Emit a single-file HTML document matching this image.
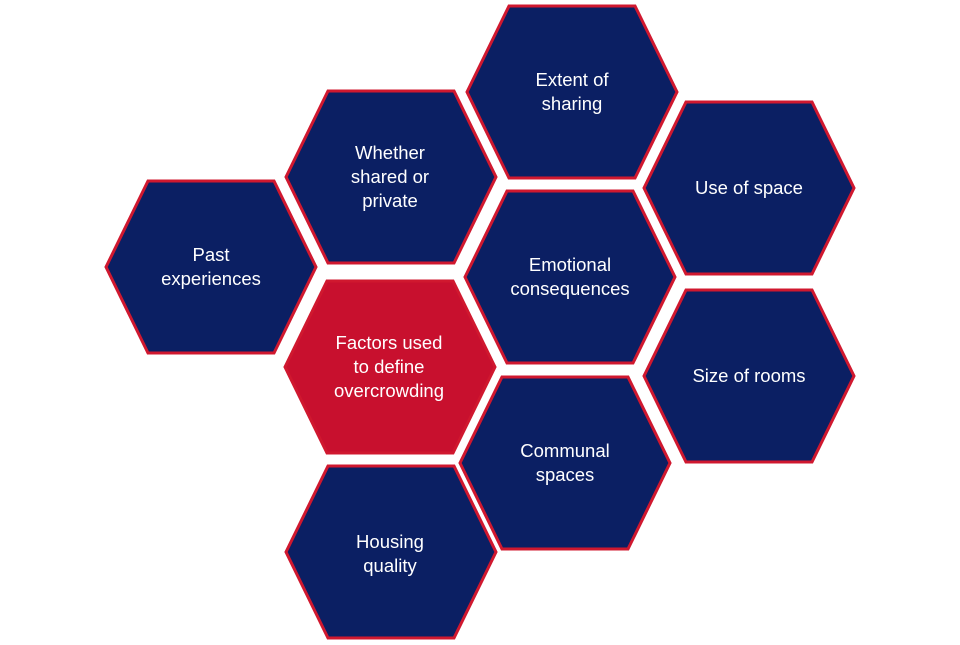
<!DOCTYPE html>
<html><head><style>
body{margin:0;background:#fff;width:960px;height:640px;overflow:hidden}
svg text{font-family:"Liberation Sans",sans-serif;font-size:18.5px;fill:#fff;text-anchor:middle}
</style></head><body>
<svg width="960" height="640" viewBox="0 0 960 640">
<defs>
<polygon id="h" points="42,0 168,0 210,86 168,172 42,172 0,86" stroke="#d0182f" stroke-width="3" stroke-linejoin="miter"/>
</defs>
<g fill="#0b1f63">
<use href="#h" x="106" y="181" fill="#0b1f63"/>
<use href="#h" x="286" y="91" fill="#0b1f63"/>
<use href="#h" x="467" y="6" fill="#0b1f63"/>
<use href="#h" x="644" y="102" fill="#0b1f63"/>
<use href="#h" x="465" y="191" fill="#0b1f63"/>
<use href="#h" x="285" y="281" fill="#c8102e"/>
<use href="#h" x="644" y="290" fill="#0b1f63"/>
<use href="#h" x="460" y="377" fill="#0b1f63"/>
<use href="#h" x="286" y="466" fill="#0b1f63"/>
</g>
<text x="211" y="261">Past</text><text x="211" y="285">experiences</text>
<text x="390" y="159">Whether</text><text x="390" y="183">shared or</text><text x="390" y="207">private</text>
<text x="572" y="86">Extent of</text><text x="572" y="110">sharing</text>
<text x="749" y="194">Use of space</text>
<text x="570" y="271">Emotional</text><text x="570" y="295">consequences</text>
<text x="389" y="349">Factors used</text><text x="389" y="373">to define</text><text x="389" y="397">overcrowding</text>
<text x="749" y="382">Size of rooms</text>
<text x="565" y="457">Communal</text><text x="565" y="481">spaces</text>
<text x="390" y="548">Housing</text><text x="390" y="572">quality</text>
</svg>
</body></html>
